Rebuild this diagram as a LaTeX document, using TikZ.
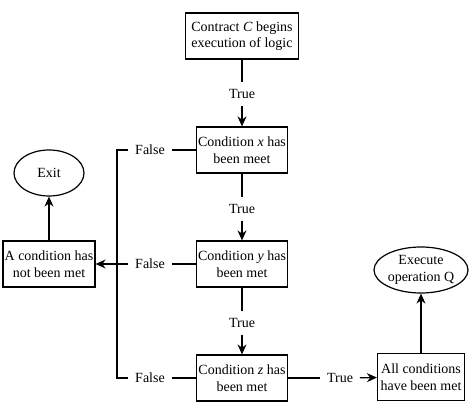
\documentclass[tikz,border=0pt]{standalone}
\usepackage{fontspec}
\setmainfont{Liberation Serif}
\usetikzlibrary{shapes.geometric,arrows.meta}
\begin{document}
\begin{tikzpicture}[x=1pt,y=-1pt,
  every node/.style={font=\fontsize{14}{16.5}\selectfont},
  box/.style={draw,line width=1.2pt,minimum height=46pt,align=center,inner sep=1pt},
  oval/.style={draw,ellipse,line width=1.2pt,align=center,inner sep=0pt},
  lbl/.style={inner sep=1pt,outer sep=6pt},
  conn/.style={line width=1.2pt},
  arr/.style={line width=1.2pt,-{Stealth[length=10pt,width=9pt]}}]
\useasboundingbox (0,0) rectangle (474,403);
\node[box,minimum width=113pt] (start) at (242,36) {Contract \textit{C} begins\\execution of logic};
\node[box,minimum width=91pt] (cx) at (242,150) {Condition \textit{x} has\\been meet};
\node[box,minimum width=91pt] (cy) at (242,264) {Condition \textit{y} has\\been met};
\node[box,minimum width=91pt] (cz) at (242,378) {Condition \textit{z} has\\been met};
\node[box,minimum width=92pt] (fail) at (49,264) {A condition has\\not been met};
\node[oval,minimum width=70pt,minimum height=46pt] (exit) at (49,173) {Exit};
\node[box,minimum width=87pt,minimum height=47pt] (all) at (421,377) {All conditions\\have been met};
\node[oval,minimum width=83pt,minimum height=46pt] (exec) at (421,270) {Execute\\operation Q};
% True labels
\node[lbl] (t1) at (242,94) {True};
\node[lbl] (t2) at (242,209) {True};
\node[lbl] (t3) at (242,323) {True};
\node[lbl] (t4) at (340,378) {True};
% False labels
\node[lbl] (f1) at (150,150) {False};
\node[lbl] (f2) at (150,264) {False};
\node[lbl] (f3) at (150,378) {False};
% bus
\coordinate (b1) at (117,150);
\coordinate (b2) at (117,264);
\coordinate (b3) at (117,378);
% connectors
\draw[conn] (start) -- (t1);
\draw[arr] (t1) -- (cx);
\draw[conn] (cx) -- (t2);
\draw[arr] (t2) -- (cy);
\draw[conn] (cy) -- (t3);
\draw[arr] (t3) -- (cz);
\draw[conn] (cz) -- (t4);
\draw[arr] (t4) -- (all);
\draw[arr] (all) -- (exec);
\draw[arr] (fail) -- (exit);
\draw[conn] (cx) -- (f1);
\draw[conn] (cy) -- (f2);
\draw[conn] (cz) -- (f3);
\draw[conn] (f1) -- (b1);
\draw[conn] (f2) -- (b2);
\draw[conn] (f3) -- (b3);
\draw[conn,line cap=rect] (b1) -- (b3);
\draw[arr] (b2) -- (fail);
\end{tikzpicture}
\end{document}
